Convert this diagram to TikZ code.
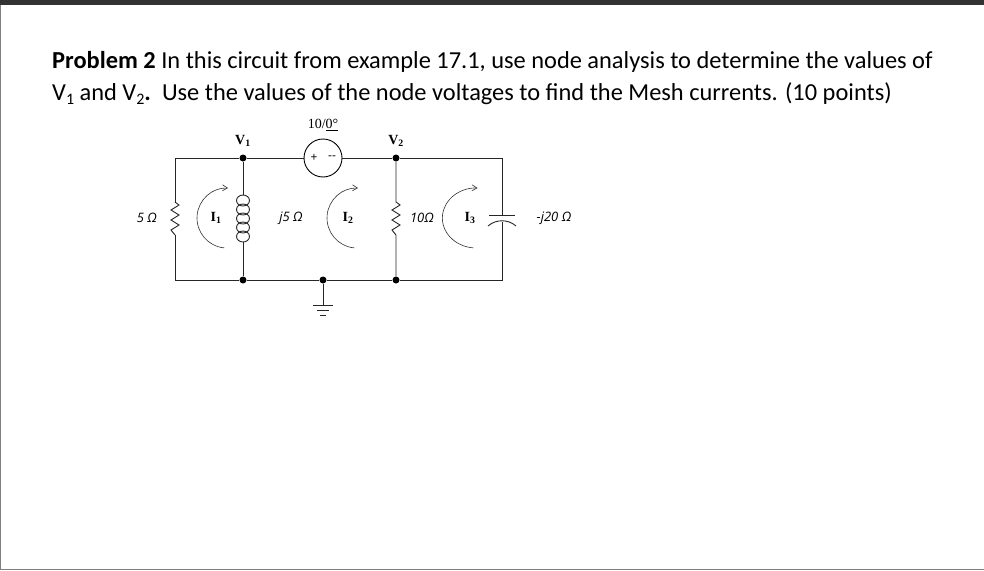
\documentclass[tikz,border=0pt]{standalone}
\usepackage{fontspec}
\setmainfont{Carlito}
\newfontfamily\tms{Liberation Serif}
\newfontfamily\osans{Open Sans}
\newcommand{\lsub}[1]{\raisebox{-0.3ex}{\fontsize{16}{16}\selectfont #1}}
\usetikzlibrary{decorations.pathmorphing,arrows.meta}
\begin{document}
\begin{tikzpicture}[x=1pt,y=-1pt,
  w/.style={line width=0.9pt,black!85},
  dot/.style={circle,fill=black,inner sep=0pt,minimum size=7pt},
  mesh/.style={line width=0.6pt,black!80,-{Straight Barb[length=5pt,width=6pt]}},
  lab/.style={font=\osans\fontsize{13}{13}\selectfont\itshape,inner sep=0pt},
  ml/.style={font=\tms\fontsize{14}{14}\selectfont\bfseries,inner sep=0pt}]
\useasboundingbox (0,0) rectangle (984,570);
\fill[white] (0,0) rectangle (984,570);
\fill[black!80] (0,0) rectangle (984,5);
\draw[black!50,line width=1pt] (0.5,5) -- (0.5,569.5) -- (984,569.5);
\node[anchor=west,inner sep=0pt,font=\fontsize{24.4}{24.4}\selectfont] (t1) at (52,62) {\textbf{Problem 2} In this circuit from example 17.1, use node analysis to determine the values of};
\node[anchor=west,inner sep=0pt,font=\fontsize{24.4}{24.4}\selectfont] (t2) at (52,94) {V\lsub{1} and V\lsub{2}\textbf{.}\ \ Use the values of the node voltages to find the Mesh currents. (10 points)};
% coordinates
\coordinate (tl) at (175,158); \coordinate (bl) at (175,280);
\node[dot] (v1) at (243,158) {}; \node[dot] (b1) at (243,280) {};
\node[dot] (v2) at (396,158) {}; \node[dot] (b2) at (396,280) {};
\node[dot] (g) at (323,280) {};
\coordinate (tr) at (502,158); \coordinate (br) at (502,280);
\node[circle,draw,line width=0.9pt,minimum size=38pt,inner sep=0pt] (src) at (323,158) {};
\node[font=\osans\fontsize{12}{12}\selectfont,inner sep=0pt] (sp) at (314,158) {+};
\node[font=\osans\fontsize{12}{12}\selectfont,inner sep=0pt] (sm) at (332,158) {--};
\node[font=\tms\fontsize{14}{14}\selectfont,inner sep=0pt] (sv) at (323,125) {10/\underline{0°}};
\node[ml] (V1) at (243,141) {V\textsubscript{1}};
\node[ml] (V2) at (396,141) {V\textsubscript{2}};
% wires
\draw[w] (v1) -- (src.west); \draw[w] (src.east) -- (v2);
\draw[w] (v1) -- (tl) -- (175,202);
\draw[w] (175,235) -- (bl) -- (b1) -- (g) -- (b2) -- (br) -- (502,222);
\draw[w] (v2) -- (tr) -- (502,215);
% 5 ohm
\draw[w] (175,202) -- (179,205) -- (171,210) -- (179,215) -- (171,220) -- (179,225) -- (171,230) -- (175,235);
% 10 ohm
\draw[w] (v2) -- (396,202) -- (400,205) -- (392,210) -- (400,215) -- (392,220) -- (400,225) -- (392,230) -- (396,235) -- (b2);
% inductor
\draw[w] (v1) -- (243,195);
\foreach \i in {0,...,4} \draw[w] (243,{200.5+9*\i}) ellipse[x radius=6.5,y radius=5.5];
\draw[w] (243,242) -- (b1);
% capacitor
\draw[w] (489,215) -- (515,215);
\draw[w] (488,226) .. controls (496,219) and (508,219) .. (516,226);
% ground
\draw[w] (g) -- (323,305);
\draw[w] (313,305) -- (333,305) (317,310) -- (329,310) (320,315) -- (326,315);
% meshes
\coordinate (c1) at (227,218); \coordinate (c2) at (357,218); \coordinate (c3) at (476,218);
\draw[mesh] (c1) ++(95:30) arc[start angle=95,end angle=272,radius=30];
\draw[mesh] (c2) ++(95:30) arc[start angle=95,end angle=272,radius=30];
\draw[mesh] (c3) ++(95:30) arc[start angle=95,end angle=272,x radius=34,y radius=30];
\node[ml] (I1) at (216,218) {I\textsubscript{1}};
\node[ml] (I2) at (348,218) {I\textsubscript{2}};
\node[ml] (I3) at (470,218) {I\textsubscript{3}};
\node[lab] (l5) at (147,218) {5 Ω};
\node[lab] (lj5) at (291,218) {j5 Ω};
\node[lab] (l10) at (422,218) {10Ω};
\node[lab] (lj20) at (554,218) {-j20 Ω};
\end{tikzpicture}
\end{document}
